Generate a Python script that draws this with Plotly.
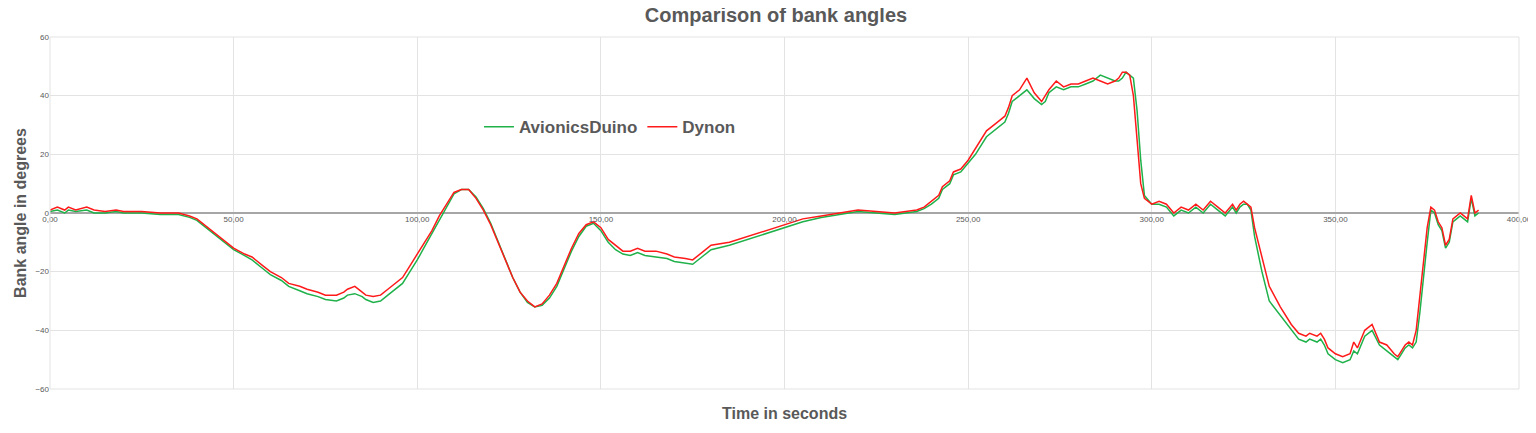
import plotly.graph_objects as go

t = [0,2,4,5,7,10,12,15,18,20,25,30,35,38,40,42,45,48,50,53,55,58,60,63,65,68,70,73,75,78,80,81,83,85,86,88,90,92,94,96,98,100,102,104,106,108,110,112,114,116,118,120,122,124,126,128,130,132,134,136,138,140,142,144,146,148,150,152,154,156,158,160,162,165,168,170,173,175,178,180,185,190,195,200,205,210,215,220,225,230,233,236,238,240,242,243,245,246,248,250,252,255,258,260,261,262,263,264,266,268,270,271,272,274,276,278,280,282,284,286,288,290,291,292,293,294,295,296,297,298,300,302,304,306,308,310,312,314,316,318,320,322,323,324,325,326,327,328,330,332,335,338,340,342,343,345,346,347,348,350,352,354,355,356,358,360,362,364,366,367,368,369,370,371,372,373,375,376,377,378,379,380,381,382,383,384,385,386,387,388,389]

dynon = [1,2,1,2,1,2,1,0.5,1,0.5,0.5,0,0,-1,-2,-4,-7,-10,-12,-14,-15,-18,-20,-22,-24,-25,-26,-27,-28,-28,-27,-26,-25,-27,-28,-28.5,-28,-26,-24,-22,-18,-14,-10,-6,-1,3,7,8,8,5,1,-4,-10,-16,-22,-27,-30,-32,-31,-28,-24,-18,-12,-7,-4,-3,-5,-9,-11,-13,-13,-12,-13,-13,-14,-15,-15.5,-16,-13,-11,-10,-8,-6,-4,-2,-1,0,1,0.5,0,0.5,1,2,4,6,9,11,14,15,18,22,28,31,33,36,40,41,42,46,41,38,40,42,45,43,44,44,45,46,45,44,45,46,48,48,47,40,25,10,5,3,4,3,0,2,1,3,1,4,2,0,3,1,3,4,3,2,-5,-15,-25,-32,-38,-41,-42,-41,-42,-41,-43,-46,-48,-49,-48,-44,-46,-40,-38,-44,-45,-48,-49,-47,-45,-44,-45,-40,-28,-5,2,1,-3,-5,-11,-9,-2,-1,0,-1,-2,6,0,1,-1,1,-1,-2,1,1]

avionics = [0.5,1,0,1,0.5,1,0,0,0.5,0,0,-0.5,-0.5,-1.5,-2.5,-4.5,-7.5,-10.5,-12.5,-14.5,-16,-19,-21,-23,-25,-26.5,-27.5,-28.5,-29.5,-30,-29,-28,-27.5,-28.5,-29.5,-30.5,-30,-28,-26,-24,-20,-16,-11.5,-7,-2,2.5,6.5,8,8,5.5,1.5,-3.5,-9.5,-16,-22,-27,-30.5,-32,-31.5,-29,-25,-19,-13,-8,-4.5,-3.5,-6,-10,-12.5,-14,-14.5,-13.5,-14.5,-15,-15.5,-16.5,-17,-17.5,-14.5,-12.5,-11,-9,-7,-5,-3,-1.5,-0.5,0.5,0,-0.5,0,0.5,1.5,3,5,8,10,13,14,17,20,26,29,31,34,38,39,40,42,39,37,38,41,43,42,43,43,44,45,47,46,45,45,46,48,47,46,35,18,6,3,3,2,-1,1,0,2,0,3,1,-1,2,0,2,3,3,1,-8,-20,-30,-35,-40,-43,-44,-43,-44,-43,-45,-48,-50,-51,-50,-47,-48,-42,-40,-45,-47,-49,-50,-48,-46,-45,-46,-44,-34,-10,1,0,-4,-6,-12,-10,-3,-2,-1,-2,-3,5,-1,0,-2,0,-2,-3,0,0.5]

xticks = [0,50,100,150,200,250,300,350,400]
xtick_labels = ["0,00","50,00","100,00","150,00","200,00","250,00","300,00","350,00","400,00"]
yticks = [-60,-40,-20,0,20,40,60]

fig = go.Figure()
fig.add_trace(go.Scatter(x=t, y=avionics, mode="lines", name="<b>AvionicsDuino</b>",
                         line=dict(color="#1fb14a", width=1.5)))
fig.add_trace(go.Scatter(x=t, y=dynon, mode="lines", name="<b>Dynon</b>",
                         line=dict(color="#ff1a1a", width=1.5)))

fig.update_layout(
    width=1536, height=433,
    paper_bgcolor="white", plot_bgcolor="white",
    margin=dict(l=42, r=14, t=29, b=52),
    title=dict(text="<b>Comparison of bank angles</b>", x=0.5, xanchor="center", y=1, yanchor="top",
               pad=dict(t=0),
               font=dict(family="Liberation Sans", size=20, color="#595959")),
    legend=dict(x=0.292, y=0.795, orientation="h", bgcolor="rgba(0,0,0,0)",
                font=dict(family="Liberation Sans", size=17, color="#595959")),
    showlegend=True,
)
fig.update_xaxes(range=[0,400], tickvals=xticks, ticktext=xtick_labels,
                 showgrid=True, gridcolor="#e3e3e3", zeroline=False,
                 showline=False, ticks="", tickfont=dict(size=8, color="#595959", family="Liberation Sans"),
                 anchor="free", position=0.5, title=None)
fig.update_yaxes(range=[-60,60], tickvals=yticks, showgrid=True, gridcolor="#e3e3e3",
                 zeroline=True, zerolinecolor="#a6a6a6", zerolinewidth=1.5,
                 tickfont=dict(size=8, color="#595959", family="Liberation Sans"),
                 title=dict(text="<b>Bank angle in degrees</b>", standoff=4,
                            font=dict(family="Liberation Sans", size=16, color="#595959")))
fig.add_annotation(text="<b>Time in seconds</b>", xref="paper", yref="paper", x=0.5, y=-0.07,
                   yanchor="middle", showarrow=False,
                   font=dict(family="Liberation Sans", size=16, color="#595959"))
fig.add_shape(type="rect", xref="paper", yref="paper", x0=0, x1=1, y0=0, y1=1,
              line=dict(color="#e3e3e3", width=1))
fig.write_html("out.html")
